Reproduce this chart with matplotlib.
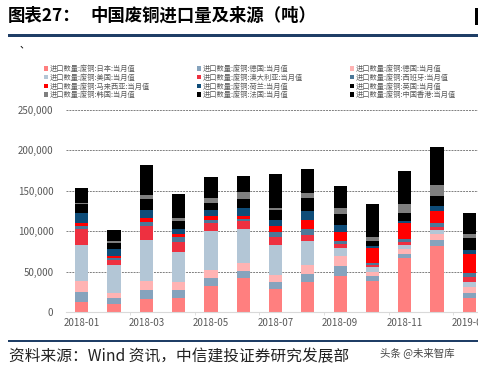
import matplotlib
matplotlib.use("Agg")
import matplotlib.pyplot as plt
from matplotlib.patches import Rectangle
from matplotlib.ticker import FuncFormatter, FixedLocator
import numpy as np

plt.rcParams['font.family'] = ['Noto Sans CJK SC', 'DejaVu Sans']

months = ["2018-01", "2018-02", "2018-03", "2018-04", "2018-05", "2018-06",
          "2018-07", "2018-08", "2018-09", "2018-10", "2018-11", "2018-12", "2019-01"]

# values in tonnes (stack order bottom -> top)
japan     = [12700, 10500, 16500, 17300, 32600, 43000, 28900, 37200, 45400, 39200, 66800, 82100, 18200]
germany   = [12500,  7000, 11000, 10300, 10400,  8600,  8300, 10300, 11900,  5800,  5400,  7400,  6100]
germany2  = [13500,  6000, 11000, 10300,  9500,  9100,  9100, 11100, 12800,  5300,  5800,  7400,  6600]
usa       = [44500, 34500, 50500, 37000, 48500, 42100, 37100, 29000,  9900,  5400,  5300,  5000,  6200]
australia = [19500,  6500, 17500, 12300,  9000,  9500,  9600,  8200,  4200,  2900,  3300,  3300,  6200]
spain     = [ 4000,  2000,  5000,  5400,  4400,  2900,  5700,  7000,  4500,  2900,  3700,  4900,  5000]
malaysia  = [ 4000,  2500,  5500,  4000,  4100,  4200,  8300, 10800, 11100, 18500, 19800, 15700, 23900]
netherl   = [12000,  9000, 10000,  5800,  7500,  9500,  7400, 11100,  8200,  2000,  2900,  5800,  4900]
uk        = [11000,  8000, 13500, 10700,  9000, 11100, 11600, 16500, 13700,  6700,  9500, 12400, 14500]
korea     = [ 1500,  2000,  4000,  2900,  6000,  8300,  3300,  6200,  7000,  4900, 11500, 13600,  4900]
france    = [ 3000,  2000,  5000,  3000,  4000,  3000,  3000,  4000,  4000,  3000,  4000,  4000,  3000]
hongkong  = [15800, 12000, 33000, 26600, 22300, 17700, 38700, 25800, 23600, 37400, 36900, 42600, 23800]

series = [japan, germany, germany2, usa, australia, spain, malaysia, netherl, uk, korea, france, hongkong]
names = ["日本", "德国", "德国", "美国", "澳大利亚", "西班牙", "马来西亚", "荷兰", "英国", "韩国", "法国", "中国香港"]
labels = ["进口数量:废铜:%s:当月值" % n for n in names]
colors = ["#FF7F7F", "#86A3BD", "#FFB3B3", "#B3C6D6", "#EE3040", "#4C7898",
          "#FF0000", "#0E4C78", "#000000", "#7F7F7F", "#000000", "#000000"]

W, H = 478, 368
fig = plt.figure(figsize=(W / 100, H / 100), dpi=100)

ax = fig.add_axes([66 / W, 1 - 312.3 / H, (W - 66) / W, (312.3 - 110) / H])
x = np.arange(len(months))
bottom = np.zeros(len(months))
handles = []
for vals, col, lab in zip(series, colors, labels):
    b = ax.bar(x, vals, width=0.41, bottom=bottom, color=col, label=lab, zorder=3)
    handles.append(b)
    bottom += np.array(vals)

ax.set_xlim(-0.49, 12.27)
ax.set_ylim(0, 250000)
ax.set_yticks(np.arange(0, 250001, 50000))
ax.yaxis.set_major_formatter(FuncFormatter(lambda v, p: f"{int(v):,}"))
ax.grid(axis='y', color='#7F7F7F', linestyle=(0, (2, 1)), linewidth=0.7, zorder=0)
ax.set_xticks(x[::2])
ax.set_xticklabels(months[::2])
ax.xaxis.set_minor_locator(FixedLocator(np.arange(-0.5, 12, 2)))
ax.tick_params(axis='x', which='major', length=0, labelsize=7, colors='#595959', pad=4)
ax.tick_params(axis='x', which='minor', length=2, color='#D9D9D9')
ax.tick_params(axis='y', length=0, labelsize=7, colors='#595959', pad=9)
for s in ['top', 'right', 'left']:
    ax.spines[s].set_visible(False)
ax.spines['bottom'].set_color('#D9D9D9')
ax.spines['bottom'].set_zorder(4)

order = [0, 3, 6, 9, 1, 4, 7, 10, 2, 5, 8, 11]
leg = fig.legend([handles[i] for i in order], [labels[i] for i in order],
                 ncol=3, loc='upper left', bbox_to_anchor=(44 / W, 1 - 65 / H),
                 frameon=False, fontsize=5.2, handlelength=0.55, handleheight=0.55,
                 handletextpad=0.25, labelspacing=0.1, columnspacing=6.5,
                 borderaxespad=0, borderpad=0)
for t in leg.get_texts():
    t.set_color('#595959')

# header
fig.text(8 / W, 1 - 16 / H, "图表27：", fontsize=12.5, fontweight='bold', va='center', ha='left')
fig.text(90 / W, 1 - 16 / H, "中国废铜进口量及来源（吨）", fontsize=12.5, fontweight='bold',
         va='center', ha='left')
fig.add_artist(Rectangle((8 / W, 1 - 36.5 / H), (W - 8) / W, 3 / H, transform=fig.transFigure,
                         color='#1F3E66', lw=0))
fig.add_artist(Rectangle((475 / W, 1 - 25 / H), 3 / W, 17 / H, transform=fig.transFigure,
                         color='#000000', lw=0))
fig.text(19 / W, 1 - 44 / H, "、", fontsize=7, va='center', ha='left')

# footer
fig.add_artist(Rectangle((8 / W, 1 - 342 / H), (W - 8) / W, 2.5 / H, transform=fig.transFigure,
                         color='#1F3E66', lw=0))
fig.text(9 / W, 1 - 357 / H, "资料来源：Wind 资讯，中信建投证券研究发展部", fontsize=11.3,
         va='center', ha='left', color='#222222')
fig.text(380 / W, 1 - 353 / H, "头条 @未来智库", fontsize=7.5, va='center', ha='left', color='#444444')

fig.savefig("out.png", dpi=100)
